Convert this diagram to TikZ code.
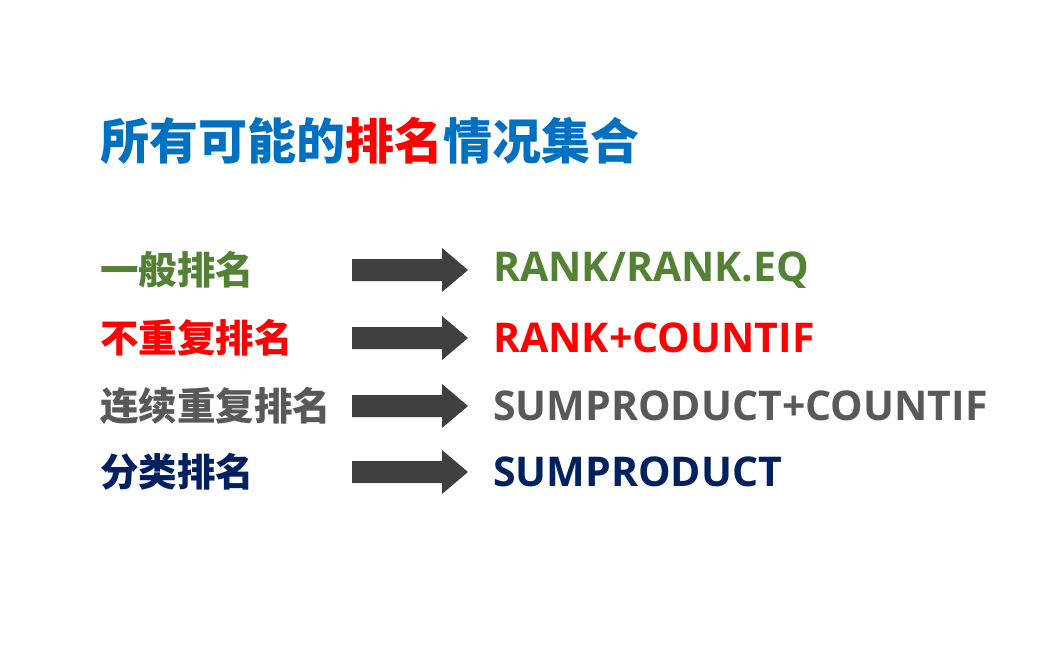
\documentclass[tikz,border=0pt]{standalone}
\usepackage{fontspec}
\setmainfont{Open Sans}
\newfontfamily\cjk{Noto Sans CJK SC}
\definecolor{tblue}{RGB}{0,112,192}
\definecolor{tgreen}{RGB}{84,130,53}
\definecolor{tred}{RGB}{255,0,0}
\definecolor{tgray}{RGB}{89,89,89}
\definecolor{tnavy}{RGB}{0,32,96}
\definecolor{arr}{RGB}{64,64,64}
\begin{document}
\begin{tikzpicture}[x=1pt,y=-1pt,
  lbl/.style={anchor=west,inner sep=0pt,font=\cjk\bfseries\fontsize{38.5}{42}\selectfont},
  fn/.style={anchor=west,inner sep=0pt,font=\bfseries\fontsize{41}{45}\selectfont},
  bigarrow/.style={fill=arr,draw=none}]
\useasboundingbox (0,0) rectangle (1064,665);
\fill[white] (0,0) rectangle (1064,665);
\node[anchor=west,inner sep=0pt,font=\cjk\bfseries\fontsize{49}{53}\selectfont,text=tblue] (title) at (100,141) {所有可能的\textcolor{tred}{排名}情况集合};
\foreach \y/\l/\f/\c [count=\i] in {270/一般排名/RANK\slash RANK.EQ/tgreen, 338/不重复排名/RANK+COUNTIF/tred, 406/连续重复排名/SUMPRODUCT+COUNTIF/tgray, 472/分类排名/SUMPRODUCT/tnavy}{
  \node[lbl,text=\c] (l\i) at (100,\y) {\l};
  \node[fn,text=\c] (f\i) at (493,\y) {\f};
  \fill[bigarrow] (352,\y-11) -- (442,\y-11) -- (442,\y-22) -- (468,\y) -- (442,\y+22) -- (442,\y+11) -- (352,\y+11) -- cycle;
}
\end{tikzpicture}
\end{document}
